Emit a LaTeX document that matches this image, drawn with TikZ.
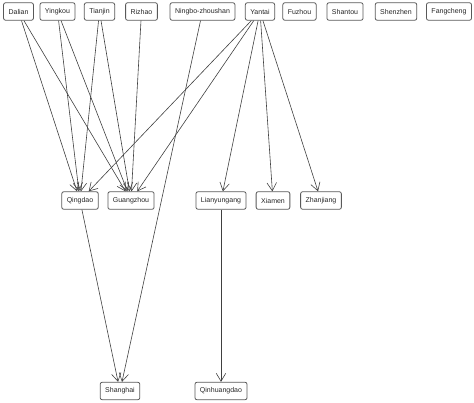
\documentclass[tikz,border=0pt]{standalone}
\usepackage{fontspec}
\setmainfont{Liberation Sans}
\usetikzlibrary{positioning, arrows.meta}

\begin{document}
\begin{tikzpicture}[x=1pt, y=-1pt, ->, >={Straight Barb[length=8pt,width=9.5pt]},
    port/.style={draw=black!65, line width=0.8pt, rounded corners=2pt,
      inner xsep=5pt, minimum height=17.5pt, text=black!85,
      font=\fontsize{7}{8}\selectfont},
    every edge/.style={draw=black!75, line width=0.6pt}]
  \useasboundingbox (0,0) rectangle (474,402);
  % top row
  \node[port] (dalian) at (18.5,11.5) {Dalian};
  \node[port] (yingkou) at (57.5,11.5) {Yingkou};
  \node[port] (tianjin) at (99.5,11.5) {Tianjin};
  \node[port] (rizhao) at (141.5,11.5) {Rizhao};
  \node[port] (ningbo) at (202.5,11.5) {Ningbo-zhoushan};
  \node[port] (yantai) at (260,11.5) {Yantai};
  \node[port] (fuzhou) at (299.5,11.5) {Fuzhou};
  \node[port] (shantou) at (345,11.5) {Shantou};
  \node[port] (shenzhen) at (396,11.5) {Shenzhen};
  \node[port] (fangcheng) at (449,11.5) {Fangcheng};
  % middle row
  \node[port] (qingdao) at (80,200.5) {Qingdao};
  \node[port] (guangzhou) at (131,200.5) {Guangzhou};
  \node[port] (lianyungang) at (221,200.5) {Lianyungang};
  \node[port] (xiamen) at (273,200.5) {Xiamen};
  \node[port] (zhanjiang) at (321,200.5) {Zhanjiang};
  % bottom row
  \node[port] (shanghai) at (120,391) {Shanghai};
  \node[port] (qinhuangdao) at (221,391) {Qinhuangdao};

  \path (dalian) edge (qingdao)
        (dalian) edge (guangzhou)
        (yingkou) edge (qingdao)
        (yingkou) edge (guangzhou)
        (tianjin) edge (qingdao)
        (tianjin) edge (guangzhou)
        (rizhao) edge (guangzhou)
        (ningbo) edge (shanghai)
        (yantai) edge (qingdao)
        (yantai) edge (guangzhou)
        (yantai) edge (lianyungang)
        (yantai) edge (xiamen)
        (yantai) edge (zhanjiang)
        (qingdao) edge (shanghai)
        (lianyungang) edge (qinhuangdao);
\end{tikzpicture}
\end{document}
